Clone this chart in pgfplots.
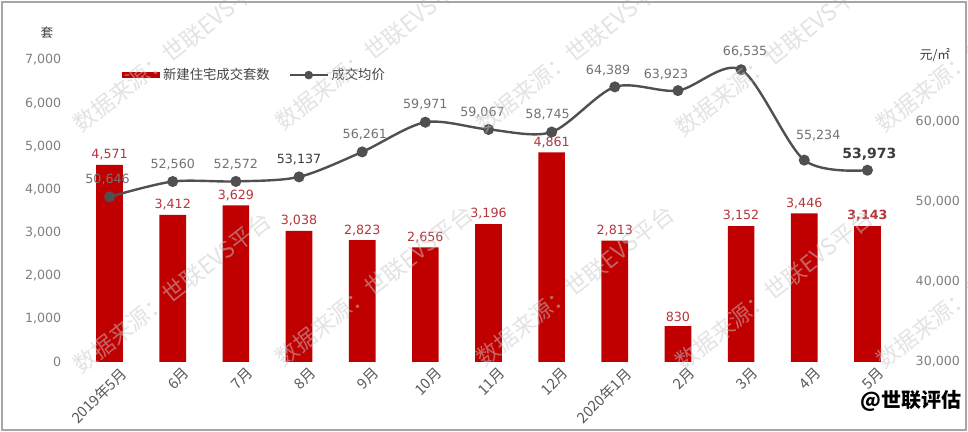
\documentclass[border=0pt]{standalone}
\usepackage{pgfplots}
\pgfplotsset{compat=1.18}
\usepackage{pgfplotstable}
\usepackage{fontspec}
\setmainfont{DejaVu Sans}
\newfontfamily\cjk{Noto Sans CJK SC}
\definecolor{barred}{RGB}{192,0,0}
\definecolor{linegray}{RGB}{80,80,80}
\definecolor{lblgray}{RGB}{115,115,115}
\definecolor{lbldark}{RGB}{60,60,60}
\definecolor{lblred}{RGB}{180,55,60}
\definecolor{tickgray}{RGB}{128,128,128}
\definecolor{xgray}{RGB}{89,89,89}
\definecolor{legtext}{RGB}{70,70,70}
\definecolor{wm}{RGB}{200,200,200}
\tikzset{lbl/.style={font=\fontsize{9.5}{10}\selectfont, text=lblgray, anchor=center}}

\pgfplotstableread{
x bars
0 4571
1 3412
2 3629
3 3038
4 2823
5 2656
6 3196
7 4861
8 2813
9 830
10 3152
11 3446
}\barsA
\pgfplotstableread{
x bars
12 3143
}\barsB
\pgfplotstableread{
x price
0 50646
1 52560
2 52572
3 53137
4 56261
5 59971
6 59067
7 58745
8 64389
9 63923
10 66535
11 55234
12 53973
}\priceT

\begin{document}
\begin{tikzpicture}
\useasboundingbox (-58.5pt,-52.5pt) rectangle (667.5pt,271.5pt);
\fill[white] (-58.5pt,-52.5pt) rectangle (667.5pt,271.5pt);
% left axis with bars
\begin{axis}[
  at={(0pt,0pt)}, anchor=south west,
  scale only axis, width=615.75pt, height=226.5pt,
  xmin=-0.5, xmax=12.5, ymin=0, ymax=7000,
  axis line style={draw=none}, major tick length=0pt,
  xtick={0,...,12},
  xticklabels={2019年5月,6月,7月,8月,9月,10月,11月,12月,2020年1月,2月,3月,4月,5月},
  xticklabel style={font=\cjk\fontsize{11}{12}\selectfont, text=xgray, rotate=45, anchor=north east, inner sep=1pt, xshift=4pt, yshift=-6pt},
  ytick={0,1000,...,7000},
  yticklabel={\pgfmathprintnumber[assume math mode=true,1000 sep={,}]{\tick}},
  yticklabel style={font=\fontsize{9.5}{10}\selectfont, text=tickgray, xshift=-9pt},
  scaled y ticks=false,
  /pgf/number format/1000 sep={,},
  /pgf/number format/assume math mode=true,
  legend style={at={(0.049,0.95)}, anchor=west, draw=none, fill=none,
    font=\cjk\fontsize{10}{12}\selectfont, text=legtext,
    /tikz/every even column/.append style={column sep=12pt}},
  legend columns=2,
  clip=false,
]
\addplot[ybar, bar width=20pt, bar shift=0pt, fill=barred, draw=none,
  nodes near coords,
  nodes near coords style={font=\fontsize{9.5}{10}\selectfont, text=lblred},
  legend image code/.code={\fill[barred] (0pt,-2pt) rectangle (28.5pt,2pt);}]
  table[x=x, y=bars] {\barsA};
\addlegendentry{新建住宅成交套数}
\addlegendimage{legend image code/.code={\draw[linegray, line width=1.8pt] (0pt,0pt) -- (28.5pt,0pt); \fill[linegray] (14.25pt,0pt) circle (3pt);}}
\addlegendentry{成交均价}
\addplot[ybar, bar width=20pt, bar shift=0pt, fill=barred, draw=none, forget plot,
  nodes near coords,
  nodes near coords style={font=\bfseries\fontsize{9.5}{10}\selectfont, text=lblred}]
  table[x=x, y=bars] {\barsB};
\end{axis}
% right axis with line
\begin{axis}[
  at={(0pt,0pt)}, anchor=south west,
  scale only axis, width=615.75pt, height=226.5pt,
  xmin=-0.5, xmax=12.5, ymin=30000, ymax=67750,
  axis x line=none, axis y line*=right,
  axis line style={draw=none}, major tick length=0pt,
  xtick=\empty,
  ytick={30000,40000,50000,60000},
  yticklabel={\pgfmathprintnumber[assume math mode=true,1000 sep={,}]{\tick}},
  yticklabel style={font=\fontsize{9.5}{10}\selectfont, text=tickgray, xshift=9pt},
  scaled y ticks=false,
  /pgf/number format/1000 sep={,},
  /pgf/number format/assume math mode=true,
  clip=false,
]
\addplot[smooth, linegray, line width=1.8pt, mark=*, mark size=3.2pt,
  mark options={fill=linegray, draw=linegray}]
  table[x=x, y=price] {\priceT};
\node[lbl, xshift=-1.5pt, yshift=13pt] at (axis cs:0,50646) {50,646};
\node[lbl, yshift=13pt] at (axis cs:1,52560) {52,560};
\node[lbl, yshift=13pt] at (axis cs:2,52572) {52,572};
\node[lbl, text=lbldark, yshift=13pt] at (axis cs:3,53137) {53,137};
\node[lbl, xshift=2pt, yshift=13pt] at (axis cs:4,56261) {56,261};
\node[lbl, yshift=13pt] at (axis cs:5,59971) {59,971};
\node[lbl, xshift=-4.5pt, yshift=13pt] at (axis cs:6,59067) {59,067};
\node[lbl, xshift=-3pt, yshift=13pt] at (axis cs:7,58745) {58,745};
\node[lbl, xshift=-5pt, yshift=12pt] at (axis cs:8,64389) {64,389};
\node[lbl, xshift=-9pt, yshift=12pt] at (axis cs:9,63923) {63,923};
\node[lbl, xshift=3pt, yshift=14pt] at (axis cs:10,66535) {66,535};
\node[lbl] at (axis cs:11.22,58250) {55,234};
\node[lbl, text=lbldark, font=\bfseries\fontsize{10.5}{11}\selectfont, xshift=1.5pt, yshift=12pt] at (axis cs:12,53973) {53,973};
\end{axis}
% axis titles
\node[font=\cjk\fontsize{9.5}{10}\selectfont, text=lbldark] at (-23.25pt,246.75pt) {套};
\node[font=\cjk\fontsize{9.5}{10}\selectfont, text=lbldark] at (642.75pt,230.25pt) {元/㎡};
\node[font=\cjk\bfseries\fontsize{15}{16}\selectfont, text=black] at (624.75pt,-29.25pt) {@世联评估};
% watermarks
\foreach \wx/\wy in {70.5/232.5,70.5/52,222/234,222/57,372.75/232.5,372.75/57,522/230,522/54,672.75/232.5,672.75/55.5}{
    \node[font=\cjk\fontsize{17}{18}\selectfont, text=wm, opacity=0.5, rotate=38] at (\wx pt,\wy pt) {数据来源：世联EVS平台};
}
% frame
\draw[gray!70, line width=1pt] (-57pt,-51pt) rectangle (666pt,270pt);
\end{tikzpicture}
\end{document}
